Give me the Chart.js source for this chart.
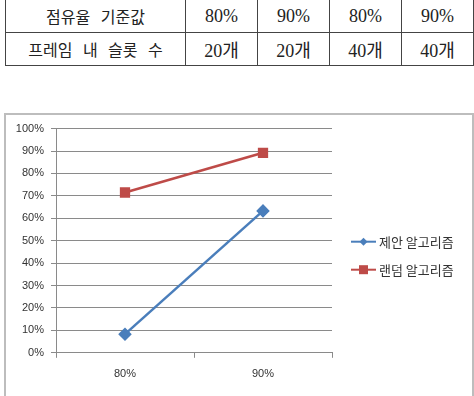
<!doctype html>
<html lang="ko">
<head>
<meta charset="utf-8">
<title>점유율 기준값 비교</title>
<script src="https://cdn.jsdelivr.net/npm/chart.js"></script>
<style>
  body { margin: 0; background: #fff; width: 474px; height: 396px; overflow: hidden; position: relative; }
  table {
    position: absolute; left: 5px; top: -1px;
    border-collapse: collapse;
    font-family: "Liberation Serif", "Noto Sans CJK KR", serif;
    font-size: 18px; color: #222;
  }
  td { border: 1.5px solid #444; height: 32px; padding: 0; text-align: center; }
  td.head { width: 179px; font-family: "Noto Sans CJK KR", sans-serif; font-size: 16px; word-spacing: 6px; }
  td.val { width: 71px; }
  .box {
    position: absolute; left: 4px; top: 113px; width: 466px; height: 290px;
    border: 2px solid #bdbdbd;
  }
  canvas { position: absolute; left: 0; top: 0; }
</style>
</head>
<body>
<table>
  <tr><td class="head">점유율 기준값</td><td class="val">80%</td><td class="val">90%</td><td class="val">80%</td><td class="val">90%</td></tr>
  <tr><td class="head">프레임 내 슬롯 수</td><td class="val">20개</td><td class="val">20개</td><td class="val">40개</td><td class="val">40개</td></tr>
</table>
<div class="box"><canvas id="chart" width="466" height="283"></canvas></div>
<script>
  const categories = ['80%', '90%'];
  const proposed = [0.083, 0.633];   // 제안 알고리즘
  const randomAlg = [0.715, 0.892];  // 랜덤 알고리즘
  const yTicks = [0, 0.1, 0.2, 0.3, 0.4, 0.5, 0.6, 0.7, 0.8, 0.9, 1.0];

  const gridColor = '#8a8a8a';

  // legend drawn as line + marker, to the right of the plot
  const sideLegend = {
    id: 'sideLegend',
    afterDraw(chart) {
      const ctx = chart.ctx;
      const area = chart.chartArea;
      const x0 = area.right + 19;
      const yMid = (area.top + area.bottom) / 2 + 15;
      chart.data.datasets.forEach((ds, i) => {
        const y = yMid - 14 + i * 28;
        ctx.save();
        ctx.strokeStyle = ds.borderColor;
        ctx.lineWidth = 2;
        ctx.beginPath();
        ctx.moveTo(x0, y);
        ctx.lineTo(x0 + 25, y);
        ctx.stroke();
        ctx.fillStyle = ds.backgroundColor;
        const cx = x0 + 12.5;
        if (ds.pointStyle === 'rect') {
          ctx.fillRect(cx - 4.5, y - 4.5, 9, 9);
        } else {
          ctx.beginPath();
          ctx.moveTo(cx, y - 4); ctx.lineTo(cx + 4, y);
          ctx.lineTo(cx, y + 4); ctx.lineTo(cx - 4, y);
          ctx.closePath(); ctx.fill();
        }
        ctx.fillStyle = '#333';
        ctx.font = '13px "Noto Sans CJK KR", sans-serif';
        ctx.textBaseline = 'middle';
        ctx.fillText(ds.label, x0 + 28, y);
        ctx.restore();
      });
    }
  };

  new Chart(document.getElementById('chart'), {
    type: 'line',
    data: {
      labels: categories,
      datasets: [
        {
          label: '제안 알고리즘', data: proposed,
          borderColor: '#4a7ebb', backgroundColor: '#4a7ebb',
          borderWidth: 2.5, pointStyle: 'rectRot', pointRadius: 5, pointHoverRadius: 5
        },
        {
          label: '랜덤 알고리즘', data: randomAlg,
          borderColor: '#be4b48', backgroundColor: '#be4b48',
          borderWidth: 2.5, pointStyle: 'rect', pointRadius: 5.5, pointHoverRadius: 5.5
        }
      ]
    },
    options: {
      responsive: false,
      animation: false,
      layout: { padding: { top: 13, right: 140, bottom: 7, left: 0 } },
      plugins: { legend: { display: false }, tooltip: { enabled: false } },
      scales: {
        x: {
          offset: true,
          grid: { offset: true, drawOnChartArea: false, color: gridColor, tickLength: 5 },
          border: { color: gridColor, width: 1 },
          ticks: { color: '#333', font: { family: 'Liberation Sans', size: 11 }, padding: 10 }
        },
        y: {
          min: 0, max: 1,
          afterFit(scale) { scale.width = 50; },
          afterBuildTicks(scale) { scale.ticks = yTicks.map(v => ({ value: v })); },
          grid: { color: gridColor, tickLength: 5 },
          border: { color: gridColor, width: 1 },
          ticks: {
            color: '#333', font: { family: 'Liberation Sans', size: 11 }, padding: 7,
            callback: v => Math.round(v * 100) + '%'
          }
        }
      }
    },
    plugins: [sideLegend]
  });
</script>
</body>
</html>
